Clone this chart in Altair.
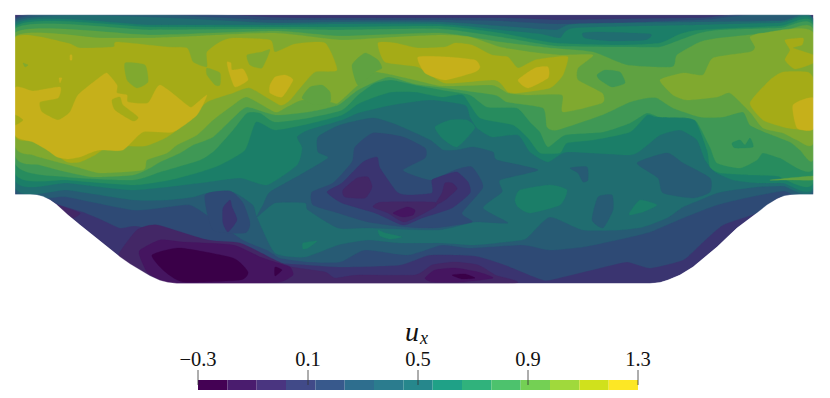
import altair as alt
import pandas as pd

# field palette (lit contour colours) by band index
field_colors = ["#3a0048","#451560","#432766","#3a3470","#2e4a75","#275b74","#206d70","#1b7e68",
                "#278c5e","#3f9855","#5fa241","#80a92f","#a5ab17","#c6b01a"]
# colour bar
bar_edges = [-0.3,-0.1933,-0.0867,0.02,0.1267,0.2333,0.34,0.4467,0.5533,0.66,0.7667,0.8733,0.98,1.0867,1.1933,1.3]
bar_colors = ["#440154","#4a1c6e","#4a3580","#414a88","#38598c","#2e6e8e","#2b7c8e","#26878c",
              "#1fa187","#30b27c","#4dc26d","#74d054","#a0d93c","#d0e11c","#fde725"]
tick_values = [-0.3,0.1,0.5,0.9,1.3]
tick_labels = ["\u22120.3","0.1","0.5","0.9","1.3"]

R = 813.4
edge_left = [(15,194.5),(30,194.5),(37,195),(43,196.5),(50,200),(57,205),(68,215),(80,225),(100,241),(120,257),(130,264),(140,270),(150,276),(160,280.5),(168,282.5),(177,283.5)]
edge_right = [(650,283.5),(660,282.5),(668,280),(680,275),(693,267),(705,257),(717,247),(737,228),(757,213),(767,205),(777,199),(784,196),(790,195),(800,194.5),(R,194.5)]
domain = [(15,14.7),(R,14.7)] + edge_right[::-1] + edge_left[::-1]
mask_bottom = edge_left + edge_right + [(830,194.5),(830,300),(0,300),(0,194.5)]
mask_left = [(0,0),(15,0),(15,195),(0,195)]
mask_right = [(R,0),(830,0),(830,195),(R,195)]
mask_top = [(0,0),(830,0),(830,14.7),(0,14.7)]

b04 = [(15,18),(300,18),(500,18),(555,20),(620,19),(700,18),(R,18),(R,193.5),(780,197),(757,213),(723,225),(700,245),(683,260),(650,268),(627,262),(600,268),(550,280),(540,279),(505,265),(475,256),(430,255),(400,265),(342,267),(308,265),(275,262),(240,245),(210,240),(170,232),(135,226),(120,228),(100,219),(83,212),(60,205),(40,195),(15,193)]
b05 = [(15,20),(275,20),(440,20),(500,21),(555,24),(620,23),(700,20),(R,20),(R,191),(783,191),(750,197),(717,205),(683,218),(650,232),(617,240),(583,247),(550,250),(522,245),(470,248),(442,245),(408,255),(365,250),(340,262),(308,262),(280,258),(267,250),(243,240),(207,215),(190,205),(167,207),(133,210),(67,197),(15,190)]
b06 = [(15,22),(275,23),(340,22),(440,22),(500,26),(555,30),(575,24),(700,22),(780,21),(R,21),(R,188),(783,186),(757,187),(733,190),(717,193),(700,200),(683,207),(667,218),(643,227),(620,230),(583,230),(550,217),(530,235),(522,240),(475,245),(442,243),(400,243),(368,240),(338,245),(305,257),(275,253),(257,217),(253,205),(233,192),(207,193),(193,197),(167,200),(133,200),(67,190),(15,187)]
b07 = [(15,25),(150,25),(275,25),(340,24),(440,24),(500,30),(540,34),(560,38),(575,28),(700,25),(780,23),(R,23),(R,186),(783,183),(757,183),(733,180),(715,172),(705,160),(697,140),(680,130),(660,135),(645,147),(630,155),(567,152),(548,162),(530,152),(518,135),(492,137),(477,128),(470,117),(465,105),(430,100),(392,105),(358,113),(342,120),(308,130),(297,137),(302,148),(297,165),(267,185),(240,178),(200,183),(133,190),(67,183),(15,180)]
b08 = [(15,27),(150,27),(275,27),(340,27),(440,26),(500,33),(555,43),(620,45),(660,43),(680,34),(700,30),(780,26),(R,25),(R,182),(777,176),(750,175),(720,173),(710,167),(707,150),(693,118),(657,117),(647,115),(630,132),(593,140),(567,143),(560,153),(540,153),(528,138),(513,125),(480,118),(463,95),(442,97),(415,92),(392,92),(375,97),(358,104),(342,115),(308,124),(275,130),(256,122),(245,150),(220,165),(200,172),(170,180),(133,185),(67,180),(15,173)]
b09 = [(15,29),(150,30),(275,29),(340,30),(440,29),(500,37),(555,46),(630,47),(660,47),(680,40),(700,33),(720,30),(780,28),(R,27),(R,168),(780,158),(763,153),(757,160),(740,168),(717,163),(710,147),(697,122),(688,118),(660,117),(647,113),(630,123),(603,132),(565,135),(548,147),(540,132),(530,122),(517,108),(487,107),(470,95),(442,90),(415,85),(392,80),(375,83),(358,95),(342,110),(308,118),(275,122),(260,113),(247,113),(233,130),(215,150),(200,160),(160,172),(133,180),(67,177),(15,163)]
b10 = [(15,33),(150,35),(275,31),(340,36),(440,33),(500,42),(550,48),(593,52),(627,65),(672,67),(677,55),(700,42),(720,38),(780,32),(R,30),(R,158),(800,150),(790,142),(767,133),(750,125),(743,112),(723,117),(700,117),(673,108),(657,98),(647,98),(630,102),(602,115),(557,130),(547,127),(543,108),(507,102),(495,95),(445,88),(415,84),(388,77),(358,90),(338,105),(308,112),(275,115),(247,107),(233,118),(213,137),(193,145),(180,153),(160,162),(150,168),(133,175),(93,177),(67,172),(40,165),(15,155)]
b11 = [(15,37),(100,38),(150,38),(200,36),(275,33),(340,40),(380,38),(440,35),(470,37),(500,47),(530,52),(560,55),(593,55),(578,68),(578,80),(602,93),(602,103),(563,112),(562,95),(528,95),(508,93),(492,85),(442,86),(415,80),(375,72),(358,85),(338,103),(330,102),(302,100),(285,108),(275,112),(247,97),(233,105),(213,120),(197,135),(177,145),(167,153),(147,160),(143,170),(100,173),(77,167),(50,160),(33,155),(15,145)]
b11r = [(660,80),(683,73),(703,75),(713,58),(750,52),(755,47),(750,37),(763,33),(R,33),(R,142),(797,140),(783,133),(763,128),(750,112),(730,93),(717,97),(687,100),(673,95)]
b12 = [(15,38),(67,43),(80,48),(113,47),(117,42),(167,47),(187,48),(193,62),(207,67),(207,52),(220,42),(233,38),(270,40),(275,52),(295,44),(325,43),(337,70),(315,72),(300,88),(290,100),(280,105),(250,88),(233,93),(207,102),(187,122),(167,137),(145,146),(110,146),(95,155),(80,162),(67,162),(50,150),(35,140),(15,135)]
b12m = [(378,43),(395,43),(418,48),(445,47),(455,43),(472,45),(492,55),(508,57),(518,68),(535,60),(555,57),(568,57),(563,75),(550,88),(518,93),(508,92),(495,80),(445,83),(418,67),(385,62)]
b12r = [(750,103),(770,80),(783,72),(807,72),(R,80),(R,128),(795,129),(783,127),(763,120)]
b12u = [(785,40),(803,38),(802,45),(793,48),(R,55),(R,63),(795,69),(785,60),(790,50)]
b13 = [(15,88),(33,91),(60,87),(58,98),(40,102),(42,112),(58,120),(70,112),(78,95),(100,77),(107,73),(117,85),(117,93),(127,95),(128,102),(148,103),(160,85),(187,105),(192,107),(207,95),(197,115),(173,132),(143,132),(123,150),(100,150),(90,153),(80,157),(68,159),(57,157),(47,150),(33,142),(15,135)]
b13a = [(227,62),(231,63),(232,70),(243,69),(248,80),(235,87),(229,72)]
b13b = [(270,85),(275,77),(285,75),(293,80),(282,97),(270,93)]
b13m = [(418,57),(448,57),(475,60),(480,67),(475,72),(445,80),(425,73)]
b13n = [(518,80),(535,68),(548,67),(548,78),(528,88)]
b13r = [(793,105),(R,98),(R,129),(797,128)]
b13s = [(70,55),(72,55),(72,60),(70,60)]
b13t = [(59,78),(62,78),(60,83)]
# islands
i12a = [(15,115),(23,120),(15,125)]
i12b = [(112,100),(120,97),(123,105),(138,117),(133,121),(115,110)]
i11a = [(125,63),(145,65),(148,82),(137,88),(127,80)]
i11b = [(207,68),(220,73),(220,85),(215,85),(207,75)]
i11c = [(247,55),(262,52),(270,50),(262,68),(250,65)]
i11d = [(23,63),(28,65),(25,67)]
i10a = [(302,98),(310,87),(322,85),(330,92),(330,102),(315,105)]
i10b = [(352,65),(365,53),(378,60),(382,68),(375,72),(358,85)]
i10c = [(770,180),(R,176),(R,180),(790,180)]
i09a = [(597,75),(605,70),(620,72),(625,83),(612,87),(600,80)]
i08a = [(732,143),(740,140),(745,145),(750,138),(753,147),(735,148)]
i07d = [(515,200),(520,190),(550,185),(567,190),(560,205),(530,213),(518,207)]
i07e = [(630,212),(640,200),(657,205),(643,212),(630,215)]
i07f = [(303,243),(317,241),(308,248),(303,249)]
i07a = [(435,127),(450,120),(467,120),(475,128),(457,147),(442,138)]
i07c = [(378,230),(385,233),(402,237),(390,239),(380,236)]
i06a = [(583,33),(600,32),(650,34),(645,40),(610,41),(585,38)]
i05b = [(570,168),(587,167),(588,180),(583,182),(578,173)]
i05c = [(598,197),(612,195),(613,210),(603,228),(592,220)]
i05d = [(637,163),(667,153),(683,163),(710,178),(710,192),(693,198),(663,193),(658,178)]
# low pockets
h05 = [(263,205),(270,192),(300,175),(328,158),(318,152),(318,137),(340,125),(373,118),(397,125),(430,140),(443,150),(457,150),(473,147),(493,152),(497,160),(538,170),(500,180),(502,192),(483,208),(508,223),(475,222),(438,230),(368,228),(338,228),(308,210),(305,203),(275,203),(257,217)]
h04 = [(355,147),(373,133),(403,137),(425,148),(425,158),(403,170),(418,177),(432,180),(455,170),(472,167),(483,187),(462,213),(472,222),(435,228),(405,227),(368,222),(338,213),(313,205),(312,192),(333,183),(352,162)]
h04l = [(205,195),(230,191),(243,203),(250,223),(245,233),(213,230)]
h03l = [(230,200),(223,208),(223,223),(228,232),(237,220),(232,207)]
h03 = [(327,192),(342,183),(363,162),(377,157),(380,168),(397,192),(408,195),(432,193),(432,180),(445,175),(457,172),(468,182),(470,193),(452,208),(422,218),(403,225),(375,213),(342,203)]
h02a = [(343,190),(357,178),(368,177),(372,187),(365,198),(345,197)]
h02b = [(373,207),(382,202),(433,202),(435,207),(405,222),(388,213)]
h02c = [(435,205),(442,193),(445,183),(452,183),(457,189),(445,200)]
h01a = [(393,213),(407,207),(415,210),(413,215),(403,217)]
h02d = [(120,252),(137,230),(157,225),(207,240),(240,243),(275,260),(292,267),(325,272),(335,278),(358,275),(415,275),(432,265),(455,262),(478,265),(495,275),(507,284),(177,284),(160,281),(140,271),(120,258)]
h02e = [(57,205),(78,212),(80,214),(72,218)]
h01b = [(140,250),(160,240),(183,242),(233,245),(260,257),(275,262),(290,267),(293,275),(280,282),(240,284),(177,284),(160,280),(147,272),(140,257)]
h00a = [(152,255),(180,248),(233,258),(248,272),(240,280),(183,282),(163,270)]
h00b = [(275,267),(282,270),(275,276)]
h01c = [(425,278),(435,270),(455,268),(478,272),(493,278),(462,282),(432,282)]
h00c = [(452,275),(465,274),(475,278),(462,279)]

draw_order = [(4,b04),(5,b05),(6,b06),(7,b07),(8,b08),(9,b09),(10,b10),(11,b11),(11,b11r),
              (12,b12),(12,b12m),(12,b12r),(12,b12u),(13,b13),(13,b13a),(13,b13b),(13,b13m),(13,b13n),(13,b13r),(13,b13s),(13,b13t),
              (12,i12a),(12,i12b),(11,i11a),(11,i11b),(11,i11c),(11,i11d),(10,i10a),(10,i10b),(10,i10c),(9,i09a),(8,i08a),
              (6,i06a),(5,i05b),(5,i05c),(5,i05d),(7,i07e),(7,i07d),
              (5,h05),(7,i07a),(7,i07c),(7,i07f),
              (4,h04),(4,h04l),(3,h03l),(3,h03),(2,h02a),(2,h02b),(2,h02c),(1,h01a),
              (2,h02d),(2,h02e),(1,h01b),(0,h00a),(0,h00b),(1,h01c),(0,h00c)]

W, H = 814, 382
xs = alt.Scale(domain=[8, 8+W], range=[0, W])
ys = alt.Scale(domain=[8, 8+H], range=[0, H])

def poly_layer(poly, col, smooth):
    pts = list(poly) if smooth else list(poly) + [poly[0]]
    df = pd.DataFrame({"px":[p[0] for p in pts], "py":[p[1] for p in pts], "i":range(len(pts))})
    kw = dict(interpolate="cardinal-closed", tension=0.45) if smooth else dict(interpolate="linear")
    return alt.Chart(df).mark_line(fill=col, stroke=col, strokeWidth=0.3, **kw).encode(
        x=alt.X("px:Q", scale=xs, axis=None),
        y=alt.Y("py:Q", scale=ys, axis=None),
        order="i:Q")

layers = [poly_layer(domain, field_colors[3], False)]
layers += [poly_layer(p, field_colors[k], True) for k, p in draw_order]
layers += [poly_layer(m, "white", False) for m in (mask_bottom, mask_left, mask_right, mask_top)]

cb_scale = alt.Scale(domain=[-0.3,1.3], range=[190,630])
bar_df = pd.DataFrame({"u0":bar_edges[:-1],"u1":bar_edges[1:],"c":bar_colors})
bar = alt.Chart(bar_df).mark_rect().encode(
    x=alt.X("u0:Q", scale=cb_scale, axis=None), x2="u1:Q",
    y=alt.value(372), y2=alt.value(388),
    color=alt.Color("c:N", scale=None, legend=None))
tick_df = pd.DataFrame({"u":tick_values,"t":tick_labels})
ticks = alt.Chart(tick_df).mark_rule(color="#333333", strokeWidth=0.8).encode(
    x=alt.X("u:Q", scale=cb_scale, axis=None), y=alt.value(362), y2=alt.value(377))
labels = alt.Chart(tick_df).mark_text(font="Liberation Serif", fontSize=20.5, color="#111111", baseline="alphabetic", align="center").encode(
    x=alt.X("u:Q", scale=cb_scale, axis=None), y=alt.value(358), text="t:N")
t_u = alt.Chart(pd.DataFrame({"t":["u"]})).mark_text(font="Liberation Serif", fontStyle="italic", fontSize=28, color="#111111", baseline="alphabetic", align="left").encode(
    x=alt.value(397), y=alt.value(333), text="t:N")
t_x = alt.Chart(pd.DataFrame({"t":["x"]})).mark_text(font="Liberation Serif", fontStyle="italic", fontSize=18, color="#111111", baseline="alphabetic", align="left").encode(
    x=alt.value(412), y=alt.value(336), text="t:N")

chart = alt.layer(*layers, bar, ticks, labels, t_u, t_x).resolve_scale(x="independent", y="independent").properties(
    width=W, height=H, padding=0, autosize=alt.AutoSizeParams(type="none"), background="white"
).configure_view(stroke=None)
chart.save("out.html", embed_options={"renderer":"svg","actions":False})
